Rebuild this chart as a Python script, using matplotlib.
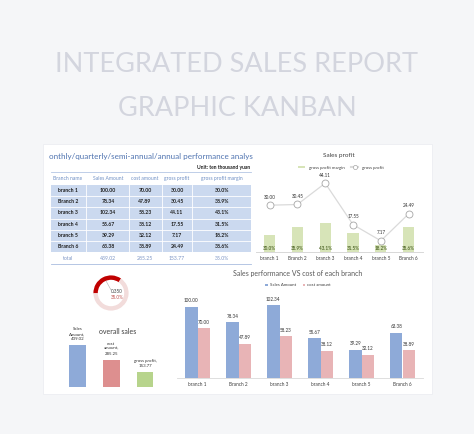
import matplotlib.pyplot as plt
import numpy as np
from matplotlib.patches import Rectangle, Patch
from matplotlib.lines import Line2D

plt.rcParams['font.family'] = ['Lato', 'DejaVu Sans']

# data
branches = ['branch 1', 'Branch 2', 'branch 3', 'branch 4', 'branch 5', 'Branch 6']
sales = [100.00, 78.34, 102.34, 55.67, 39.29, 63.38]
cost = [70.00, 47.89, 58.23, 38.12, 32.12, 38.89]
profit = [30.00, 30.45, 44.11, 17.55, 7.17, 24.49]
margin = [30.0, 38.9, 43.1, 31.5, 18.2, 38.6]
total_sales = 439.02
total_cost = 285.25
total_profit = 153.77
total_margin = 35.0
headers = ['Branch name', 'Sales Amount', 'cost amount', 'gross profit', 'gross profit margin']
overall_labels = ['Sales\nAmount,', 'cost\namount,', 'gross profit,']
overall_values = [total_sales, total_cost, total_profit]

W, H = 474, 434
fig = plt.figure(figsize=(W / 100, H / 100), dpi=100)
fig.patch.set_facecolor('#f5f6f8')


def px_axes(x0, y0, x1, y1):
    # axes from pixel box (top-left origin)
    ax = fig.add_axes([x0 / W, 1 - y1 / H, (x1 - x0) / W, (y1 - y0) / H])
    ax.set_facecolor('none')
    return ax


# background layer in pixel coordinates
bg = fig.add_axes([0, 0, 1, 1])
bg.set_xlim(0, W)
bg.set_ylim(H, 0)
bg.axis('off')

bg.text(237, 65, 'INTEGRATED SALES REPORT', ha='center', va='center',
        fontsize=19.5, color='#d3d5de')
bg.text(237, 108, 'GRAPHIC KANBAN', ha='center', va='center',
        fontsize=19.5, color='#d3d5de')

# white panel
bg.add_patch(Rectangle((43, 144), 389, 250, facecolor='white', edgecolor='#eceef2', lw=0.6))

# ---- table ----
blue_txt = '#4f73b0'
bg.text(151, 156, 'onthly/quarterly/semi-annual/annual performance analys', ha='center', va='center',
        fontsize=5.75, color=blue_txt)
bg.text(250, 167.5, 'Unit: ten thousand yuan', ha='right', va='center', fontsize=3.6,
        fontweight='bold', color='#222222')
col_x = [68, 108, 145, 177, 222]
col_edges = [51, 86, 129, 162, 192, 251]
bg.plot([51, 251], [172, 172], color='#b4c6e4', lw=0.6)
for cx, h in zip(col_x, headers):
    bg.text(cx, 178.5, h, ha='center', va='center', fontsize=3.6, color='#6f8fc4')
row_top = 185
row_h = 11.17
bg.add_patch(Rectangle((51, row_top), 200, 6 * row_h, facecolor='#cbd9ef', edgecolor='none'))
for k in range(1, 6):
    bg.plot([51, 251], [row_top + k * row_h] * 2, color='white', lw=0.6)
for e in col_edges[1:-1]:
    bg.plot([e, e], [row_top, row_top + 6 * row_h], color='white', lw=0.6)
for i in range(6):
    yc = row_top + (i + 0.5) * row_h
    vals = [branches[i], f'{sales[i]:.2f}', f'{cost[i]:.2f}', f'{profit[i]:.2f}', f'{margin[i]:.1f}%']
    for cx, v in zip(col_x, vals):
        bg.text(cx, yc, v, ha='center', va='center', fontsize=3.7, fontweight='bold', color='#1f1f1f')
totals = ['total', f'{total_sales:.2f}', f'{total_cost:.2f}', f'{total_profit:.2f}', f'{total_margin:.1f}%']
for cx, v in zip(col_x, totals):
    bg.text(cx, 258, v, ha='center', va='center', fontsize=3.7, color='#7f97c6')
bg.plot([51, 251], [264, 264], color='#a9bddf', lw=0.6)

# ---- Sales profit chart ----
x = np.arange(len(branches))
axm = px_axes(255.6, 174, 422.6, 252)
axm.bar(x, margin, width=0.4, color='#d7e4b8', bottom=0)
axm.set_ylim(10, 100)
axm.set_xlim(-0.5, 5.5)
for i, m in enumerate(margin):
    axm.text(i, 14.6, f'{m:.1f}%', ha='center', va='center', fontsize=3.3, fontweight='bold', color='#556b2f')
axp = axm.twinx()
axp.plot(x, profit, color='#dadada', lw=0.9, marker='o', markersize=5,
         markerfacecolor='white', markeredgecolor='#a6a6a6', markeredgewidth=0.6)
axp.set_ylim(0, 50)
for i, p in enumerate(profit):
    axp.annotate(f'{p:.2f}', (i, p), xytext=(0, 4), textcoords='offset points',
                 ha='center', va='bottom', fontsize=3.3, color='#333333')
for a in (axm, axp):
    a.set_yticks([])
    for s in ('top', 'left', 'right'):
        a.spines[s].set_visible(False)
    a.spines['bottom'].set_color('#d9d9d9')
    a.spines['bottom'].set_linewidth(0.6)
axm.set_xticks(x)
axm.set_xticklabels(branches, fontsize=3.4, color='#404040')
axm.tick_params(axis='x', length=0, pad=3)
bg.text(339, 156, 'Sales profit', ha='center', va='center', fontsize=4.6, color='#404040')
axm.legend(handles=[Patch(facecolor='#d7e4b8', label='gross profit margin'),
                    Line2D([], [], color='#dadada', marker='o', markersize=3, markerfacecolor='white',
                           markeredgecolor='#a6a6a6', markeredgewidth=0.5, label='gross profit')],
           loc='center', bbox_to_anchor=(341 / W, 1 - 167.7 / H), bbox_transform=fig.transFigure,
           ncol=2, frameon=False, fontsize=3.2, handlelength=1.6, handleheight=0.4, columnspacing=1.5,
           labelcolor='#404040')

# ---- donut ----
axd = px_axes(89, 271, 133, 315)
axd.pie([total_margin, 100 - total_margin], colors=['#c00000', '#f2dcdb'], startangle=55,
        counterclock=True, radius=1, wedgeprops=dict(width=0.25, edgecolor='none'))
axd.set_aspect('equal')
bg.plot([105, 111], [279, 290], color='#b0b0b0', lw=0.4)
bg.text(117, 291.5, f'{total_margin / 100:.3f}', ha='center', va='center', fontsize=3.3, color='#404040')
bg.text(117, 297.5, f'{total_margin:.1f}%', ha='center', va='center', fontsize=3.3, color='#c0504d')

# ---- overall sales ----
axo = px_axes(60.4, 327, 161.9, 387)
xo = np.arange(len(overall_values))
axo.bar(xo, overall_values, width=0.5, color=['#8eaad8', '#dd8f8f', '#b7d48c'])
axo.set_xlim(-0.5, 2.5)
axo.set_ylim(0, 630)
axo.axis('off')
for i, (lab, v) in enumerate(zip(overall_labels, overall_values)):
    axo.annotate(f'{lab}\n{v:.2f}', (i, v), xytext=(0, 3), textcoords='offset points',
                 ha='center', va='bottom', fontsize=3.2, color='#333333', linespacing=1.3)
bg.text(117.5, 331, 'overall sales', ha='center', va='center', fontsize=5, color='#404040')

# ---- Sales performance VS cost ----
axs = px_axes(177, 292.7, 423, 377.7)
axs.bar(x - 0.15, sales, width=0.3, color='#8eaad8', label='Sales Amount')
axs.bar(x + 0.15, cost, width=0.3, color='#e8b4b6', label='cost amount')
axs.set_xlim(-0.5, 5.5)
axs.set_ylim(0, 120)
for i in range(len(branches)):
    axs.annotate(f'{sales[i]:.2f}', (i - 0.15, sales[i]), xytext=(0, 2.5), textcoords='offset points',
                 ha='center', va='bottom', fontsize=3.3, color='#333333')
    axs.annotate(f'{cost[i]:.2f}', (i + 0.15, cost[i]), xytext=(0, 2.5), textcoords='offset points',
                 ha='center', va='bottom', fontsize=3.3, color='#333333')
axs.set_yticks([])
for s in ('top', 'left', 'right'):
    axs.spines[s].set_visible(False)
axs.spines['bottom'].set_color('#d9d9d9')
axs.spines['bottom'].set_linewidth(0.6)
axs.set_xticks(x)
axs.set_xticklabels(branches, fontsize=3.4, color='#404040')
axs.tick_params(axis='x', length=0, pad=3)
bg.text(298, 273.5, 'Sales performance VS cost of each branch', ha='center', va='center',
        fontsize=5, color='#595959')
axs.legend(loc='center', bbox_to_anchor=(298 / W, 1 - 285.5 / H), bbox_transform=fig.transFigure,
           ncol=2, frameon=False, fontsize=3.2, handlelength=0.6, handleheight=0.6, columnspacing=1.5,
           handletextpad=0.4, labelcolor='#404040')

fig.savefig('out.png', dpi=100, facecolor=fig.get_facecolor())
